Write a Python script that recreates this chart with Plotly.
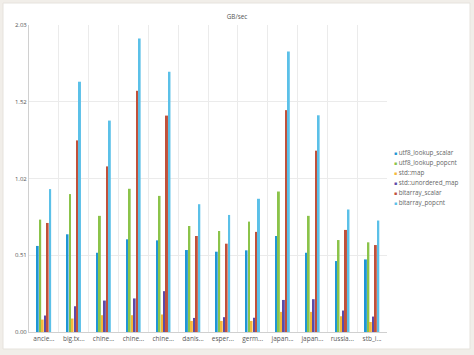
import plotly.graph_objects as go

labels = ["ancie...", "big.tx...", "chine...", "chine...", "chine...", "danis...",
          "esper...", "germ...", "japan...", "japan...", "russia...", "stb_i..."]

series_names = ["utf8_lookup_scalar", "utf8_lookup_popcnt", "std::map",
                "std::unordered_map", "bitarray_scalar", "bitarray_popcnt"]
colors = ["#1f96d4", "#8bc34a", "#f5b93b", "#5c4aa8", "#c0513b", "#5bc0e8"]

utf8_lookup_scalar = [0.569, 0.646, 0.524, 0.613, 0.606, 0.542, 0.531, 0.540, 0.635, 0.524, 0.469, 0.480]
utf8_lookup_popcnt = [0.743, 0.912, 0.768, 0.947, 0.900, 0.701, 0.668, 0.730, 0.929, 0.768, 0.608, 0.593]
std_map = [0.082, 0.089, 0.111, 0.111, 0.115, 0.073, 0.073, 0.073, 0.133, 0.133, 0.104, 0.066]
std_unordered_map = [0.109, 0.171, 0.208, 0.222, 0.270, 0.093, 0.098, 0.095, 0.212, 0.217, 0.142, 0.102]
bitarray_scalar = [0.721, 1.267, 1.095, 1.595, 1.431, 0.635, 0.584, 0.662, 1.467, 1.199, 0.675, 0.575]
bitarray_popcnt = [0.945, 1.655, 1.398, 1.940, 1.721, 0.845, 0.774, 0.881, 1.854, 1.433, 0.810, 0.737]

series_values = [utf8_lookup_scalar, utf8_lookup_popcnt, std_map,
                 std_unordered_map, bitarray_scalar, bitarray_popcnt]

y_max = 2.03
y_tickvals = [0, 0.5075, 1.015, 1.5225, 2.03]
y_ticktext = ["0.00", "0.51", "1.02", "1.52", "2.03"]

x_pos = list(range(len(labels)))

W, H = 474, 355
ml, mr, mt, mb = 29, 87, 25, 23
pw, ph = W - ml - mr, H - mt - mb

fig = go.Figure()
for name, vals, col in zip(series_names, series_values, colors):
    fig.add_trace(go.Bar(name=name, x=x_pos, y=vals, marker=dict(color=col, line=dict(width=0)),
                         showlegend=False))

font = "Open Sans, Noto Sans, sans-serif"

# legend built as annotations
annotations = []
for i, (name, col) in enumerate(zip(series_names, colors)):
    annotations.append(dict(
        xref="paper", yref="paper",
        x=(392 - ml) / pw, y=(mt + ph - (152 + 10 * i)) / ph,
        xanchor="left", yanchor="middle", showarrow=False,
        text=f"<span style='color:{col};font-size:5px'>■</span> {name}",
        font=dict(family=font, size=6.3, color="#666666"),
    ))

# white card
shapes = [dict(type="rect", xref="paper", yref="paper", layer="below",
               x0=(3 - ml) / pw, x1=(470 - ml) / pw,
               y0=(mt + ph - 349) / ph, y1=(mt + ph - 3) / ph,
               fillcolor="#ffffff", line=dict(color="#e6e3dd", width=1))]

fig.update_layout(
    width=W, height=H,
    margin=dict(l=ml, r=mr, t=mt, b=mb),
    paper_bgcolor="#f1eee9",
    plot_bgcolor="rgba(0,0,0,0)",
    barmode="group", bargap=0.5, bargroupgap=0.2,
    showlegend=False,
    title=dict(text="GB/sec", x=0.5, xanchor="center", y=1 - 17 / H, yanchor="middle",
               font=dict(family=font, size=6.3, color="#555555")),
    annotations=annotations,
    shapes=shapes,
    xaxis=dict(range=[-0.5, len(labels) - 0.5], tickmode="array", tickvals=x_pos, ticktext=labels,
               showgrid=False, ticks="", showline=True, linecolor="#d0d0d0", linewidth=1,
               automargin=False,
               tickfont=dict(family=font, size=6.5, color="#555555"),
               minor=dict(tickmode="linear", tick0=-0.5, dtick=1, showgrid=True,
                          gridcolor="#ebebeb", gridwidth=1, ticks=""),
               zeroline=False),
    yaxis=dict(range=[0, y_max], tickmode="array", tickvals=y_tickvals, ticktext=y_ticktext,
               showgrid=True, gridcolor="#ebebeb", gridwidth=1, zeroline=False,
               showline=True, linecolor="#d0d0d0", linewidth=1, ticks="",
               automargin=False,
               tickfont=dict(family=font, size=6, color="#555555")),
)

fig.write_html("out.html", config={"displayModeBar": False},
               post_script="document.body.style.margin='0';document.body.style.overflow='hidden';")
